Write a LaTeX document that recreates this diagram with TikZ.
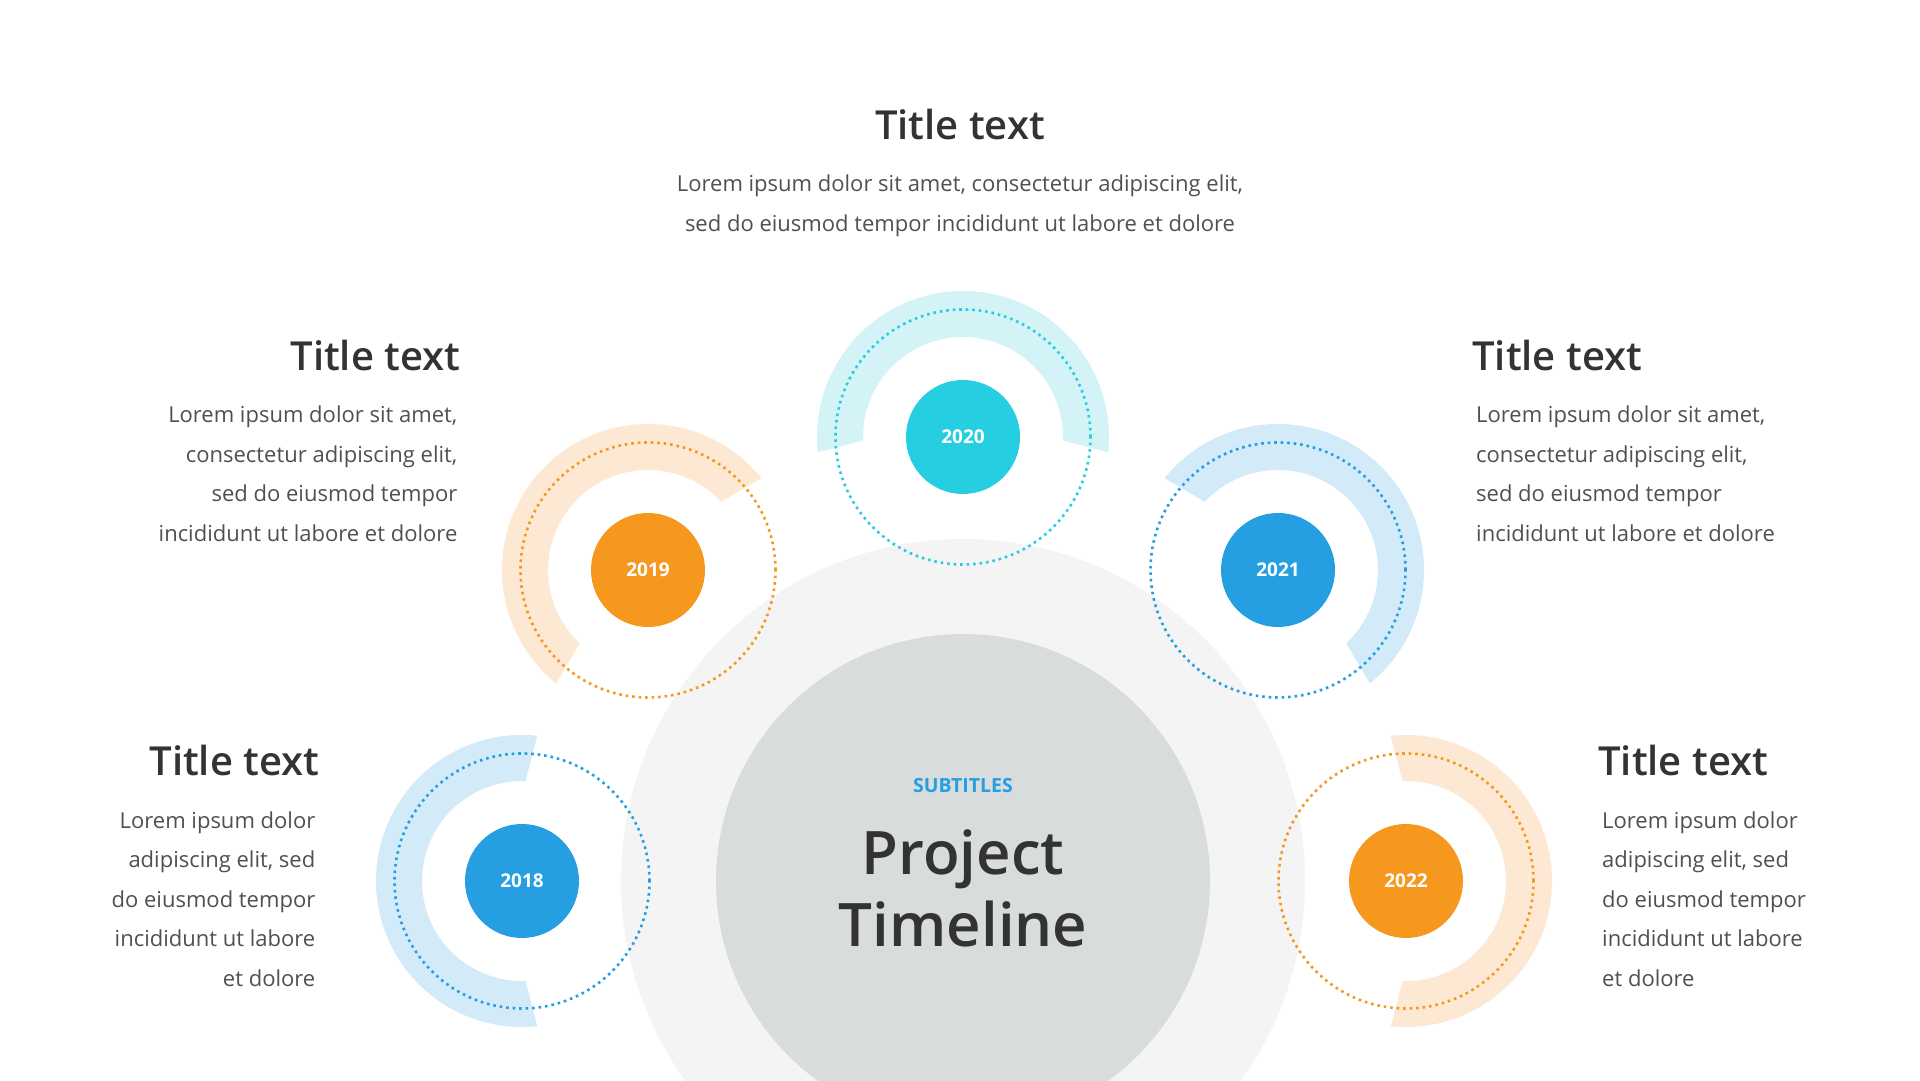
\documentclass[tikz,border=0pt]{standalone}
\usepackage{fontspec}
\usetikzlibrary{calc}
\setmainfont{Open Sans}
\IfFontExistsTF{Open Sans SemiBold}{\newfontfamily\semib{Open Sans SemiBold}}{%
  \IfFontExistsTF{Open Sans Semibold}{\newfontfamily\semib{Open Sans Semibold}}{\newcommand\semib{\bfseries}}}
\definecolor{cyanC}{HTML}{26CEE1}
\definecolor{cyanL}{HTML}{D3F3F7}
\definecolor{oraC}{HTML}{F6981E}
\definecolor{oraL}{HTML}{FDE9D3}
\definecolor{bluC}{HTML}{269FE2}
\definecolor{bluL}{HTML}{D3EAF8}
\definecolor{bgA}{HTML}{F4F4F4}
\definecolor{bgB}{HTML}{D9DCDD}
\definecolor{txtD}{HTML}{333333}
\definecolor{txtB}{HTML}{505050}
\tikzset{
  yearnode/.style={circle, minimum size=114pt, inner sep=0pt, text=white, font=\bfseries\fontsize{19}{19}\selectfont},
  ring/.style={line width=2.6pt, dash pattern=on 2.6pt off 3.9pt},
  titletxt/.style={inner sep=0pt, text=txtD, font=\semib\fontsize{40}{40}\selectfont},
  bodytxt/.style={inner sep=0pt, text=txtB, font=\fontsize{22}{22}\selectfont},
  bigtxt/.style={inner sep=0pt, text=txtD, font=\semib\fontsize{60}{60}\selectfont},
  subtxt/.style={inner sep=0pt, text=bluC, font=\bfseries\fontsize{19.5}{19.5}\selectfont},
}
\begin{document}
\begin{tikzpicture}[x=1pt,y=1pt]
\useasboundingbox (0,0) rectangle (1920,1080);
\clip (0,0) rectangle (1920,1080);
\fill[white] (0,0) rectangle (1920,1080);
\coordinate (ctr) at (963,199);
\fill[bgA] (ctr) circle (342);
\fill[bgB] (ctr) circle (247);
\foreach \nm/\cx/\cy/\d/\cc/\lc in {2018/522/199/180/bluC/bluL, 2019/648/510/135/oraC/oraL, 2020/963/643/90/cyanC/cyanL, 2021/1278/510/45/bluC/bluL, 2022/1406/199/0/oraC/oraL}{
  \coordinate (c\nm) at (\cx,\cy);
  \fill[\lc] ($(c\nm)+(\d-96:146)$) arc[start angle=\d-96, end angle=\d+96, radius=146]
     -- ($(c\nm)+(\d+92:100)$) arc[start angle=\d+92, end angle=\d-92, radius=100] -- cycle;
  \draw[ring, \cc] (c\nm) circle (127.5);
  \node[yearnode, fill=\cc] (y\nm) at (c\nm) {\nm};
}
% center
\node[subtxt, anchor=base] (sub) at (963,287.3) {SUBTITLES};
\node[bigtxt, anchor=base] (proj) at (963,206) {Project};
\node[bigtxt, anchor=base] (tline) at (963,134) {Timeline};
% top block
\node[titletxt, anchor=base] (ttop) at (960,940) {Title text};
\node[bodytxt, anchor=base] (btopa) at (960,888) {Lorem ipsum dolor sit amet, consectetur adipiscing elit,};
\node[bodytxt, anchor=base] (btopb) at (960,848.5) {sed do eiusmod tempor incididunt ut labore et dolore};
% left middle
\node[titletxt, anchor=base east] (tlm) at (460.5,709) {Title text};
\node[bodytxt, anchor=base east] (blma) at (457.5,657) {Lorem ipsum dolor sit amet,};
\node[bodytxt, anchor=base east] (blmb) at (457.5,617.5) {consectetur adipiscing elit,};
\node[bodytxt, anchor=base east] (blmc) at (457.5,578) {sed do eiusmod tempor};
\node[bodytxt, anchor=base east] (blmd) at (457.5,538.5) {incididunt ut labore et dolore};
% right middle
\node[titletxt, anchor=base west] (trm) at (1472,709) {Title text};
\node[bodytxt, anchor=base west] (brma) at (1476,657) {Lorem ipsum dolor sit amet,};
\node[bodytxt, anchor=base west] (brmb) at (1476,617.5) {consectetur adipiscing elit,};
\node[bodytxt, anchor=base west] (brmc) at (1476,578) {sed do eiusmod tempor};
\node[bodytxt, anchor=base west] (brmd) at (1476,538.5) {incididunt ut labore et dolore};
% bottom left
\node[titletxt, anchor=base east] (tlb) at (319.5,304) {Title text};
\node[bodytxt, anchor=base east] (blba) at (315.5,252) {Lorem ipsum dolor};
\node[bodytxt, anchor=base east] (blbb) at (315.5,212.5) {adipiscing elit, sed};
\node[bodytxt, anchor=base east] (blbc) at (315.5,173) {do eiusmod tempor};
\node[bodytxt, anchor=base east] (blbd) at (315.5,133.5) {incididunt ut labore};
\node[bodytxt, anchor=base east] (blbe) at (315.5,94) {et dolore};
% bottom right
\node[titletxt, anchor=base west] (trb) at (1598,304) {Title text};
\node[bodytxt, anchor=base west] (brba) at (1602,252) {Lorem ipsum dolor};
\node[bodytxt, anchor=base west] (brbb) at (1602,212.5) {adipiscing elit, sed};
\node[bodytxt, anchor=base west] (brbc) at (1602,173) {do eiusmod tempor};
\node[bodytxt, anchor=base west] (brbd) at (1602,133.5) {incididunt ut labore};
\node[bodytxt, anchor=base west] (brbe) at (1602,94) {et dolore};
\end{tikzpicture}
\end{document}
